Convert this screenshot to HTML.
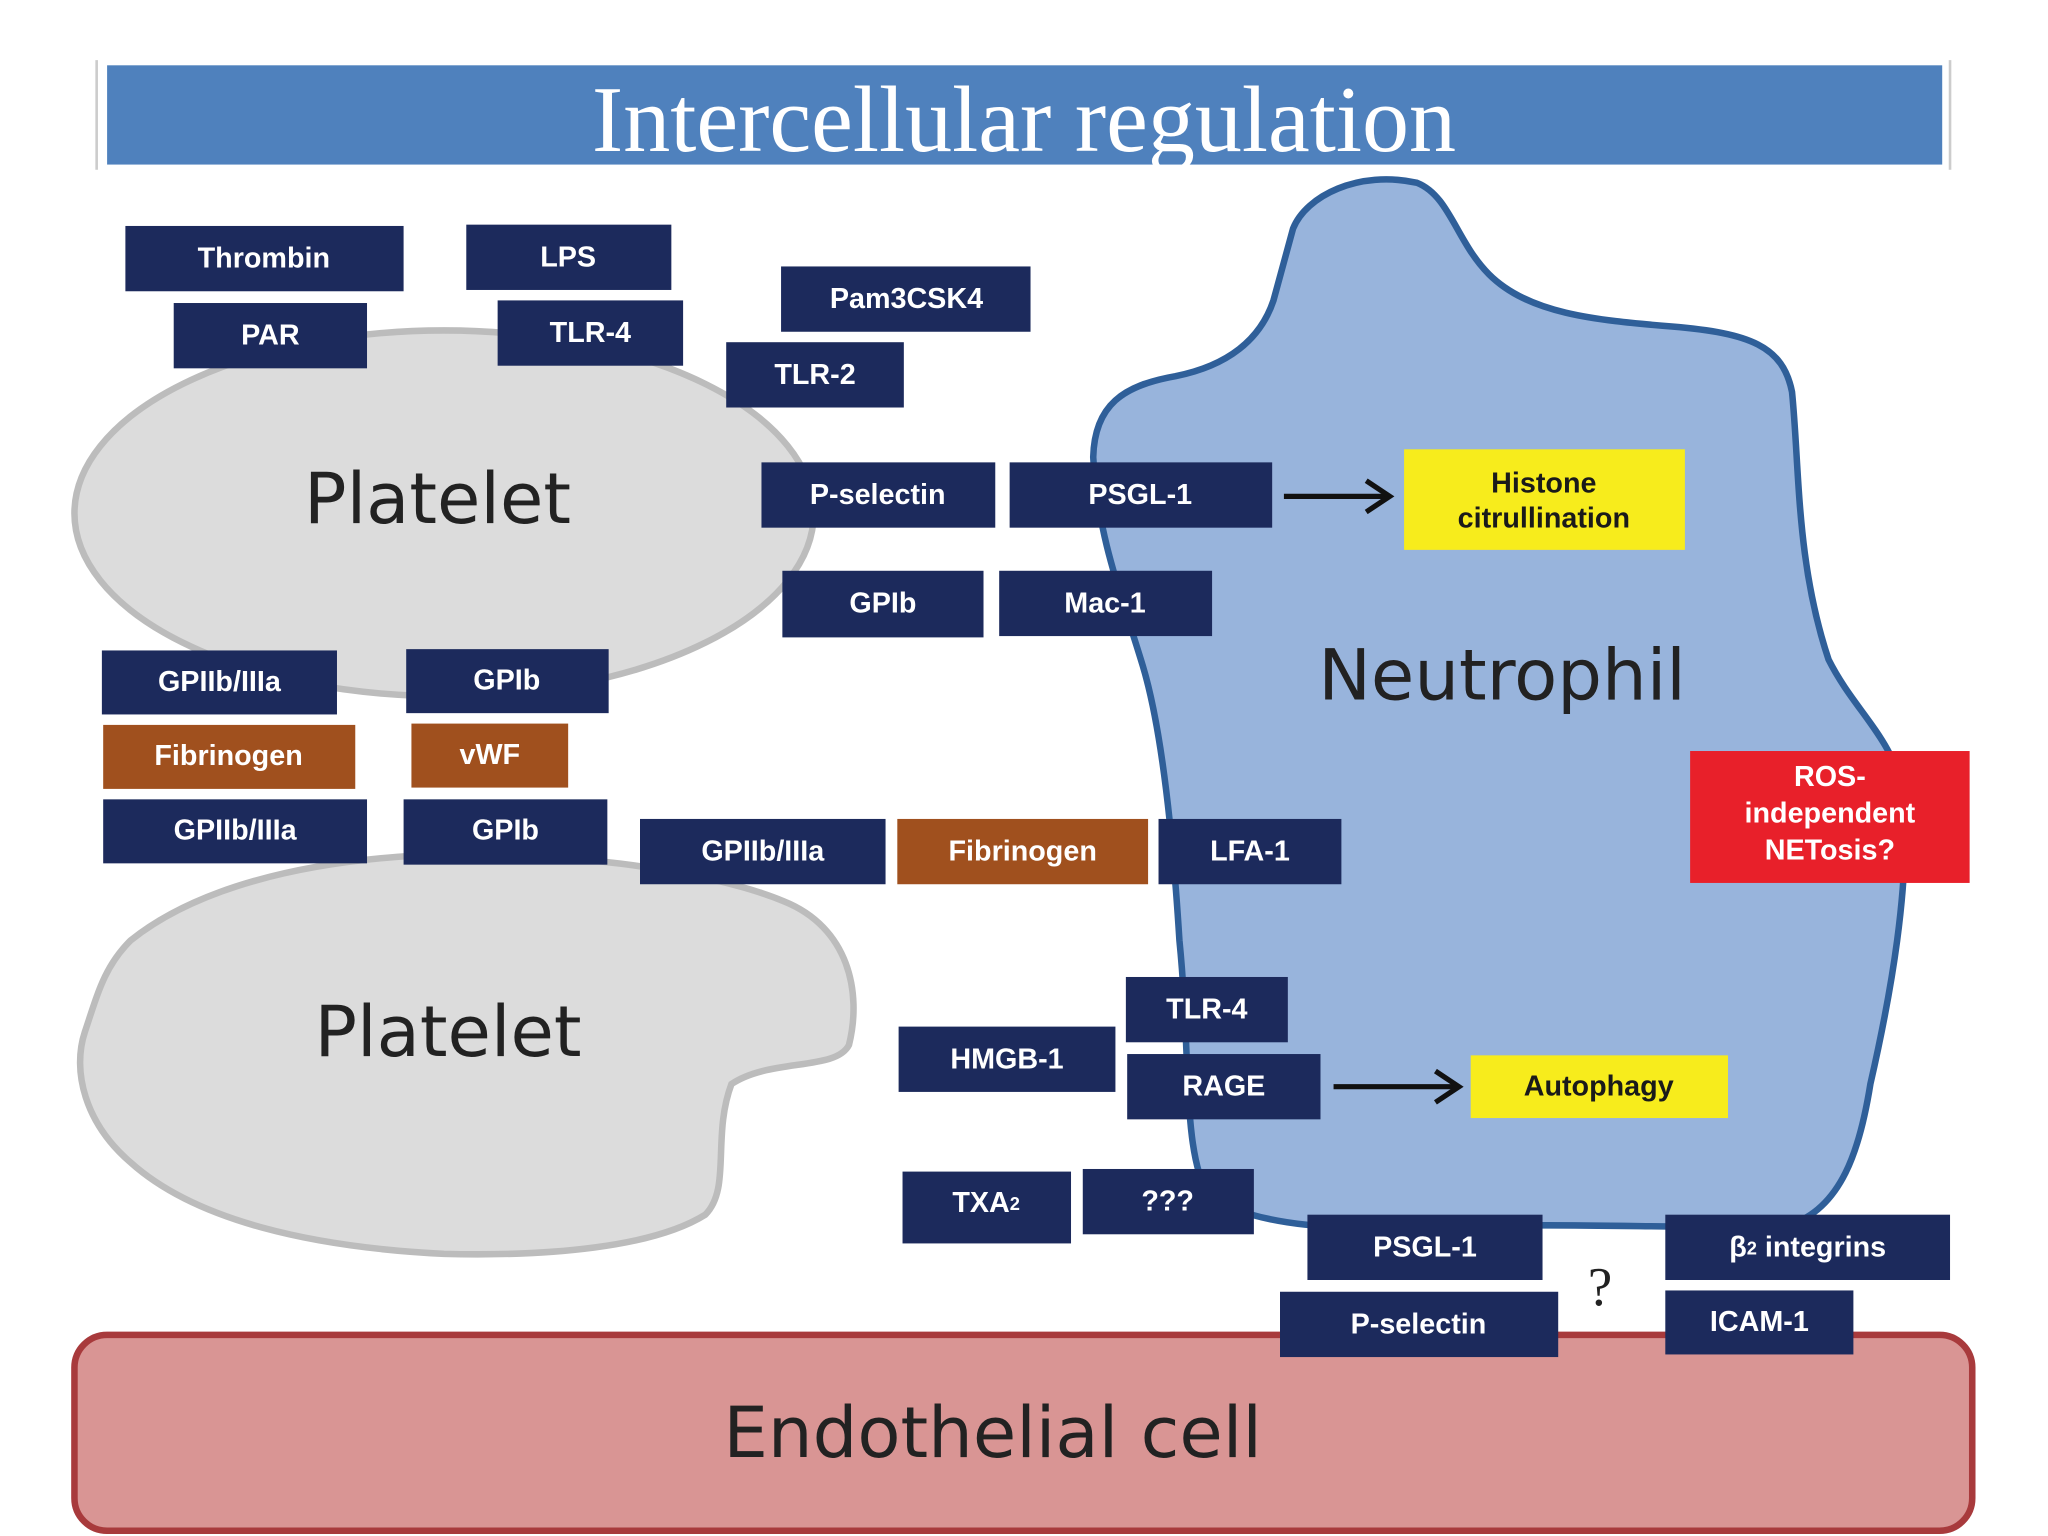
<!DOCTYPE html>
<html><head><meta charset="utf-8"><style>
html,body{margin:0;padding:0;background:#fff;}
svg{display:block;}
.b{fill:#1c2a5c;}
.t{fill:#fff;font-family:"Liberation Sans",sans-serif;font-weight:bold;font-size:22px;text-anchor:middle;dominant-baseline:central;}
.k{fill:#1a1a1a;font-family:"Liberation Sans",sans-serif;font-weight:bold;font-size:22px;text-anchor:middle;dominant-baseline:central;}
.big{fill:#222;font-family:"DejaVu Sans","Liberation Sans",sans-serif;font-size:54px;text-anchor:middle;dominant-baseline:central;}
</style></head><body>
<svg width="2048" height="1536" viewBox="0 0 1568 1176" xmlns="http://www.w3.org/2000/svg">
<rect width="1568" height="1176" fill="#fff"/>
<line x1="74" y1="46" x2="74" y2="130" stroke="#ccc" stroke-width="2"/>
<line x1="1493" y1="46" x2="1493" y2="130" stroke="#ccc" stroke-width="2"/>
<rect x="82" y="50" width="1405" height="76" fill="#4f81bd"/>
<text x="784" y="92" fill="#fff" font-family="Liberation Serif,serif" font-size="72" text-anchor="middle" dominant-baseline="central">Intercellular regulation</text>

<path d="M990,175 C1000,150 1040,130 1085,140 C1110,150 1115,185 1140,210 C1170,240 1220,245 1280,250 C1340,255 1365,265 1372,300 C1378,360 1375,430 1400,505 C1420,545 1450,565 1458,610 C1462,680 1448,760 1432,830 C1424,880 1410,925 1370,938 C1300,942 1200,935 1100,940 C1030,942 960,940 925,915 C905,880 912,810 903,720 C898,640 890,560 875,510 C860,460 840,410 837,350 C838,310 860,295 900,288 C940,280 965,260 975,230 Z" fill="#98b4dc" stroke="#2f5f99" stroke-width="5"/>

<ellipse cx="340" cy="393" rx="283" ry="140" fill="#dcdcdc" stroke="#bcbcbc" stroke-width="5"/>
<path d="M100,720 C150,680 230,660 320,655 C420,650 540,665 600,690 C650,710 660,760 650,800 C640,820 590,810 560,830 C545,870 560,910 540,930 C500,955 420,962 340,960 C240,955 150,935 100,890 C65,860 55,820 65,790 C75,760 80,740 100,720 Z" fill="#dcdcdc" stroke="#bcbcbc" stroke-width="5"/>

<rect x="57" y="1022" width="1453" height="150" rx="25" fill="#d99594" stroke="#a83a3c" stroke-width="5"/>
<text class="big" x="760" y="1097">Endothelial cell</text>
<text class="big" x="335" y="382">Platelet</text>
<text class="big" x="343" y="790">Platelet</text>
<text class="big" x="1150" y="517">Neutrophil</text>

<g>
<rect class="b" x="96" y="173" width="213" height="50"/><text class="t" x="202" y="198">Thrombin</text>
<rect class="b" x="357" y="172" width="157" height="50"/><text class="t" x="435" y="197">LPS</text>
<rect class="b" x="133" y="232" width="148" height="50"/><text class="t" x="207" y="257">PAR</text>
<rect class="b" x="381" y="230" width="142" height="50"/><text class="t" x="452" y="255">TLR-4</text>
<rect class="b" x="598" y="204" width="191" height="50"/><text class="t" x="694" y="229">Pam3CSK4</text>
<rect class="b" x="556" y="262" width="136" height="50"/><text class="t" x="624" y="287">TLR-2</text>
<rect class="b" x="583" y="354" width="179" height="50"/><text class="t" x="672" y="379">P-selectin</text>
<rect class="b" x="773" y="354" width="201" height="50"/><text class="t" x="873" y="379">PSGL-1</text>
<rect x="1075" y="344" width="215" height="77" fill="#f7ec1c"/><text class="k" x="1182" y="370">Histone</text><text class="k" x="1182" y="397">citrullination</text>
<rect class="b" x="599" y="437" width="154" height="51"/><text class="t" x="676" y="462">GPIb</text>
<rect class="b" x="765" y="437" width="163" height="50"/><text class="t" x="846" y="462">Mac-1</text>
<rect class="b" x="78" y="498" width="180" height="49"/><text class="t" x="168" y="522">GPIIb/IIIa</text>
<rect class="b" x="311" y="497" width="155" height="49"/><text class="t" x="388" y="521">GPIb</text>
<rect x="79" y="555" width="193" height="49" fill="#a0501e"/><text class="t" x="175" y="579">Fibrinogen</text>
<rect x="315" y="554" width="120" height="49" fill="#a0501e"/><text class="t" x="375" y="578">vWF</text>
<rect class="b" x="79" y="612" width="202" height="49"/><text class="t" x="180" y="636">GPIIb/IIIa</text>
<rect class="b" x="309" y="612" width="156" height="50"/><text class="t" x="387" y="636">GPIb</text>
<rect class="b" x="490" y="627" width="188" height="50"/><text class="t" x="584" y="652">GPIIb/IIIa</text>
<rect x="687" y="627" width="192" height="50" fill="#a0501e"/><text class="t" x="783" y="652">Fibrinogen</text>
<rect class="b" x="887" y="627" width="140" height="50"/><text class="t" x="957" y="652">LFA-1</text>
<rect x="1294" y="575" width="214" height="101" fill="#e8202a"/><text class="t" x="1401" y="595">ROS-</text><text class="t" x="1401" y="623">independent</text><text class="t" x="1401" y="651">NETosis?</text>
<rect class="b" x="862" y="748" width="124" height="50"/><text class="t" x="924" y="773">TLR-4</text>
<rect class="b" x="688" y="786" width="166" height="50"/><text class="t" x="771" y="811">HMGB-1</text>
<rect class="b" x="863" y="807" width="148" height="50"/><text class="t" x="937" y="832">RAGE</text>
<rect x="1126" y="808" width="197" height="48" fill="#f7ec1c"/><text class="k" x="1224" y="832">Autophagy</text>
<rect class="b" x="691" y="897" width="129" height="55"/><text class="t" x="755" y="921">TXA<tspan font-size="14">2</tspan></text>
<rect class="b" x="829" y="895" width="131" height="50"/><text class="t" x="894" y="920">???</text>
<rect class="b" x="1001" y="930" width="180" height="50"/><text class="t" x="1091" y="955">PSGL-1</text>
<rect class="b" x="1275" y="930" width="218" height="50"/><text class="t" x="1384" y="955">β<tspan font-size="14">2</tspan> integrins</text>
<rect class="b" x="980" y="989" width="213" height="50"/><text class="t" x="1086" y="1014">P-selectin</text>
<rect class="b" x="1275" y="988" width="144" height="49"/><text class="t" x="1347" y="1012">ICAM-1</text>
</g>
<text x="1225" y="985" fill="#222" font-family="Liberation Serif,serif" font-size="42" text-anchor="middle" dominant-baseline="central">?</text>

<g stroke="#111" stroke-width="4" fill="none">
<line x1="983" y1="380" x2="1062" y2="380"/>
<polyline points="1046,368 1064,380 1046,392"/>
<line x1="1021" y1="832" x2="1115" y2="832"/>
<polyline points="1099,820 1117,832 1099,844"/>
</g>
</svg>
</body></html>
